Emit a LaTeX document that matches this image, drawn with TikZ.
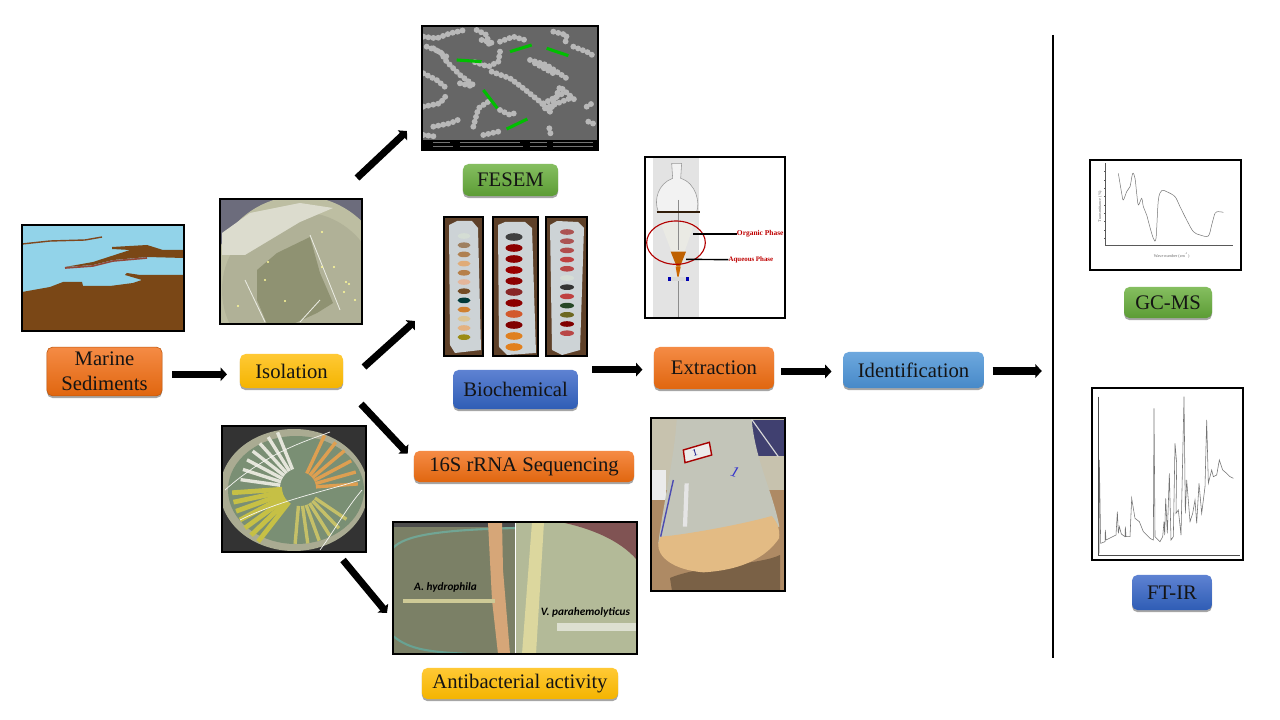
\documentclass[tikz,border=0pt]{standalone}
\usepackage{fontspec}
\setmainfont{Liberation Serif}
\newfontfamily\capfont{Carlito}
\usetikzlibrary{arrows.meta,shadows,calc}

\definecolor{sea}{HTML}{92D3E9}
\definecolor{mud}{HTML}{7A4716}
\definecolor{mudred}{HTML}{93483A}
\definecolor{agar}{HTML}{BDBEA2}
\definecolor{agardark}{HTML}{8F9272}
\definecolor{wrap}{HTML}{DCDCCE}
\definecolor{wood}{HTML}{5E4028}
\definecolor{stripgrey}{HTML}{CDD3D6}
\definecolor{glass}{HTML}{C3C5B9}
\definecolor{wall}{HTML}{C7C2AE}
\definecolor{bench}{HTML}{AE8A64}
\definecolor{broth}{HTML}{E3BB84}
\definecolor{lawnleft}{HTML}{7B8066}
\definecolor{lawnright}{HTML}{B3BA98}
\definecolor{streakleft}{HTML}{D6A678}
\definecolor{streakright}{HTML}{DCD79E}

\tikzset{
  labelbox/.style={rectangle,rounded corners=4pt,inner sep=1pt,align=center,
    font=\fontsize{14.7}{17.5}\selectfont,text=black!92,
    drop shadow={shadow xshift=0pt,shadow yshift=-1.5pt,opacity=.35,fill=black}},
  orangebox/.style={labelbox,top color=orangetop,bottom color=orangebot},
  yellowbox/.style={labelbox,top color=yellowtop,bottom color=yellowbot},
  greenbox/.style={labelbox,top color=greentop,bottom color=greenbot},
  bluebox/.style={labelbox,top color=bluetop,bottom color=bluebot},
  skybox/.style={labelbox,top color=skytop,bottom color=skybot},
  picframe/.style={rectangle,draw=black,line width=1.5pt,inner sep=0pt,outer sep=0pt},
  bigarrow/.style={line width=5pt,-{Triangle[width=9.5pt,length=4.5pt]}},
  bacteria/.style={line width=4.2pt,line cap=round,dash pattern=on 0pt off 3.6pt,color=black!28},
  tinylabel/.style={inner sep=0pt,font=\fontsize{3}{3}\selectfont,text=black!60},
  phase/.style={inner sep=0pt,anchor=west,text=red!75!black,font=\fontsize{5.3}{6}\selectfont\bfseries},
  species/.style={inner sep=0pt,font=\capfont\fontsize{8}{9}\selectfont\bfseries\itshape}
}
\definecolor{orangetop}{HTML}{F58B45}
\definecolor{orangebot}{HTML}{E0660F}
\definecolor{yellowtop}{HTML}{FFC935}
\definecolor{yellowbot}{HTML}{F4B400}
\definecolor{greentop}{HTML}{85BE60}
\definecolor{greenbot}{HTML}{5C9C35}
\definecolor{bluetop}{HTML}{5E82D2}
\definecolor{bluebot}{HTML}{2F5DB5}
\definecolor{skytop}{HTML}{6DA8DE}
\definecolor{skybot}{HTML}{4789C8}

\begin{document}
\begin{tikzpicture}[x=0.025cm,y=-0.025cm]
  \useasboundingbox (0,0) rectangle (1280,720);
  \fill[white] (0,0) rectangle (1280,720);

  % sediments
  \begin{scope}
    \clip (22,225) rectangle (184,331);
    \fill[sea] (22,225) rectangle (184,331);
    \fill[mud] (22,292) -- (50,287) -- (63,282) -- (82,282) -- (83,286) -- (110,286) -- (133,283) -- (142,280)
      -- (125,275) -- (127,273) -- (140,275) -- (184,275) -- (184,331) -- (22,331) -- cycle;
    \fill[mud] (112,247) -- (147,245) -- (163,250) -- (184,250) -- (184,258) -- (147,257) -- (113,260) -- (93,265)
      -- (65,267) -- (93,262) -- (130,250) -- (112,249) -- cycle;
    \draw[mudred,line width=1.2pt] (147,258) -- (113,261) -- (93,266) -- (65,268);
    \draw[mud!80!mudred,line width=1pt] (22,244) -- (50,241) -- (85,240) -- (102,237);
  \end{scope}
  \node[picframe,minimum width=4.05cm,minimum height=2.65cm] (sedimentpic) at (103,278) {};

  % first plate
  \begin{scope}
    \clip (220,199) rectangle (362,324);
    \fill[black!60!blue!15!gray] (220,199) rectangle (362,324);
    \fill[agar] (300,284) circle (88);
    \fill[agar!93!black] (300,290) circle (78);
    \fill[agardark] (257,270) -- (277,253) -- (310,237) -- (320,273) -- (333,303) -- (317,313) -- (293,324) -- (267,324) -- (257,300) -- cycle;
    \fill[wrap] (222,233) -- (250,213) -- (300,203) -- (333,208) -- (300,222) -- (270,240) -- (245,255) -- (222,255) -- cycle;
    \draw[white!70!agar,line width=.6pt] (310,235) -- (330,285) -- (340,310) (320,300) -- (300,322) (245,280) -- (265,322);
    \foreach \px/\py in {268/262,265/280,285/301,322/267,346/282,349/284,344/292,355/300,238/306,322/232,334/267}
      \fill[white!60!yellow] (\px,\py) circle (1.2);
  \end{scope}
  \node[picframe,minimum width=3.55cm,minimum height=3.125cm] (firstplate) at (291,261.5) {};

  % second plate
  \begin{scope}
    \clip (222,426) rectangle (366,552);
    \fill[black!80] (222,426) rectangle (366,552);
    \fill[agar!90!black] (294,490) ellipse (74 and 61);
    \fill[agardark!85!teal] (296,490) ellipse (68 and 54);
    \begin{scope}[shift={(300,488)}]
      \foreach \a in {-112,-122,-132,-142,-152,-162,-172}
        \draw[white!60!agar,line width=2.4pt] (\a:20) -- (\a:60);
      \foreach \a in {-65,-52,-40,-28,-16,-4}
        \draw[orange!50!agar,line width=2.4pt] (\a:16) -- (\a:58);
      \foreach \a in {176,168,160,152,144,136,128}
        \draw[yellow!75!black!85!agar,line width=3.4pt] (\a:18) -- (\a:68);
      \foreach \a in {95,82,70,58,46,34}
        \draw[yellow!50!agar!85!black,line width=2.4pt] (\a:18) -- (\a:56);
    \end{scope}
    \draw[white!85!agar,line width=.5pt] (225,490) .. controls (270,450) and (310,440) .. (330,432)
      (240,520) .. controls (280,500) and (330,490) .. (360,480)
      (320,550) .. controls (335,530) and (345,510) .. (362,490);
  \end{scope}
  \node[picframe,minimum width=3.6cm,minimum height=3.15cm] (secondplate) at (294,489) {};

  % fesem
  \begin{scope}
    \clip (422,26) rectangle (598,150);
    \fill[black!60] (422,26) rectangle (598,150);
    \begin{scope}[shift={(410,15)},scale=1/3]
      \draw[bacteria] (40,65) -- (80,70) -- (120,55) -- (165,45)
        (50,95) -- (90,110) -- (110,140) -- (150,180) -- (190,210)
        (70,100) -- (110,125)
        (200,45) -- (230,60) -- (240,100) (215,75) -- (250,85)
        (270,80) -- (310,65) -- (345,75)
        (270,110) -- (265,140) -- (235,155) -- (190,140)
        (245,170) -- (300,190) -- (340,220) -- (390,260) -- (420,290)
        (360,135) -- (410,150) -- (440,170) -- (470,190) (375,145) -- (430,175)
        (430,50) -- (470,60) -- (465,90)
        (490,95) -- (530,110) -- (555,125)
        (420,290) -- (450,215) -- (500,260) (400,265) -- (460,235) (405,280) -- (480,250)
        (40,175) -- (80,195) -- (110,220) (150,205) -- (190,215)
        (40,275) -- (90,265) -- (110,240)
        (190,335) -- (205,280) -- (235,260)
        (70,335) -- (120,325) -- (155,310)
        (270,285) -- (300,300) -- (325,290)
        (220,360) -- (265,350)
        (40,360) -- (80,365)
        (530,275) -- (555,260)
        (535,320) -- (560,330)
        (418,340) -- (422,358);
      \draw[green!75!black,line width=2.2pt] (140,135) -- (215,140) (300,110) -- (365,90) (410,100) -- (475,122)
        (220,225) -- (262,280) (290,342) -- (352,312);
      \fill[black] (30,375) rectangle (570,410);
      \draw[black!55,line width=.25pt] (70,383) -- (120,383) (150,383) -- (330,383) (360,383) -- (410,383) (430,383) -- (550,383)
        (70,394) -- (130,394) (150,394) -- (340,394) (360,394) -- (410,394) (430,394) -- (550,394);
    \end{scope}
  \end{scope}
  \node[picframe,minimum width=4.4cm,minimum height=3.1cm] (fesempic) at (510,88) {};

  % biochemical strips
  \fill[wood] (444,217) rectangle (483,356);
  \fill[wood] (493,217) rectangle (538,356);
  \fill[wood] (546,217) rectangle (587,356);
  \fill[stripgrey] (449,225) -- (457,221) -- (472,221) -- (478,228) -- (481,350) -- (455,353) -- (450,345) -- cycle;
  \fill[stripgrey] (498,225) -- (505,222) -- (525,222) -- (532,228) -- (536,353) -- (507,355) -- (499,347) -- cycle;
  \fill[stripgrey] (550,225) -- (557,221) -- (578,222) -- (584,228) -- (580,350) -- (562,355) -- (552,350) -- cycle;
  \foreach \n/\col in {0/green!12!gray!30,1/brown!50!gray,2/brown!75!gray,3/orange!25!brown!65,4/brown!85!gray,5/red!15!brown!50,
      6/brown!60!black,7/teal!45!black,8/brown!75!orange,9/olive!20!brown!50,10/orange!30!brown!60,11/olive!75!brown}
    \fill[\col] ({464},{236+9.2*\n}) ellipse (6.5 and 2.8);
  \foreach \n/\col in {0/black!75,1/red!55!black,2/red!55!black,3/red!60!black,4/red!55!black,5/red!45!black!85,6/red!55!black,
      7/red!30!brown,8/red!50!black,9/orange!50!brown,10/orange!55!brown}
    \fill[\col] ({514},{237+11*\n}) ellipse (8.5 and 3.8);
  \foreach \n/\col in {0/red!35!gray,1/red!35!gray,2/red!40!gray,3/red!50!gray,4/red!45!gray,5/green!10!gray!30,6/black!80,
      7/red!50!gray,8/green!15!black!85,9/olive!70!black,10/red!50!black,11/red!45!gray}
    \fill[\col] ({567},{232+9.2*\n}) ellipse (7 and 2.8);
  \node[picframe,minimum width=.975cm,minimum height=3.475cm] (stripa) at (463.5,286.5) {};
  \node[picframe,minimum width=1.125cm,minimum height=3.475cm] (stripb) at (515.5,286.5) {};
  \node[picframe,minimum width=1.025cm,minimum height=3.475cm] (stripc) at (566.5,286.5) {};

  % funnel
  \begin{scope}[shift={(430,150)},scale=1/3]
    \fill[black!11] (670,25) rectangle (808,500);
    \draw[black!40,line width=.4pt,fill=black!5] (725,40) -- (755,40) -- (752,85) .. controls (800,100) and (810,160) .. (800,185)
      -- (685,185) .. controls (670,150) and (685,100) .. (728,85) -- cycle;
    \fill[yellow!22!black!12] (690,215) -- (795,215) -- (750,345) -- (740,345) -- cycle;
    \fill[orange!75!black] (722,305) -- (768,305) -- (750,350) -- (740,350) -- cycle;
    \fill[orange!80!black] (737,350) -- (752,350) -- (746,380) -- (742,380) -- cycle;
    \draw[black!45,line width=.6pt] (745,380) -- (745,500) (745,150) -- (745,300);
    \draw[mud!40!black,line width=1.4pt] (680,185) -- (810,185);
    \fill[black!15] (715,380) rectangle (775,392);
    \fill[blue!70!black] (713,380) rectangle (723,392);
    \fill[blue!70!black] (767,380) rectangle (777,392);
    \draw[red!70!black,line width=.8pt] (738,278) ellipse (88 and 65);
    \coordinate (organicstart) at (790,252);
    \coordinate (aqueousstart) at (768,328);
    \node[phase] (organic) at (920,252) {Organic Phase};
    \node[phase,font=\fontsize{4.9}{6}\selectfont\bfseries] (aqueous) at (895,329) {Aqueous Phase};
    \draw[line width=1pt] (organicstart) -- (organic.west);
    \draw[line width=1pt] (aqueousstart) -- (aqueous.west);
  \end{scope}
  \node[picframe,minimum width=3.5cm,minimum height=4.025cm] (funnelpic) at (715,237.5) {};

  % flask
  \begin{scope}
    \clip (651,418) rectangle (785,591);
    \fill[wall] (651,418) rectangle (785,510);
    \fill[bench] (651,490) rectangle (785,591);
    \fill[blue!25!black!75] (752,420) rectangle (785,456);
    \fill[black!8] (651,470) rectangle (666,500);
    \fill[bench!70!black] (670,578) .. controls (700,565) and (760,565) .. (780,555) -- (780,591) -- (672,591) -- cycle;
    \begin{scope}[shift={(640,410)},scale=1/3]
      \fill[glass] (110,28) -- (335,28) .. controls (345,150) and (400,250) .. (418,350) -- (55,400) .. controls (70,280) and (105,130) .. (110,28);
      \fill[broth] (62,380) .. controls (130,375) and (300,345) .. (395,318) .. controls (415,340) and (420,360) .. (417,385)
        .. controls (380,440) and (310,480) .. (190,487) .. controls (100,480) and (50,440) .. (55,400) -- cycle;
      \draw[white!80!gray,line width=3pt] (140,220) -- (135,350);
      \draw[blue!40!gray,line width=1pt] (100,210) -- (62,380);
      \draw[white!70!gray,line width=.8pt] (335,28) -- (415,140);
      \draw[red!65!black,line width=1pt,fill=white!85!gray] (130,120) -- (208,97) -- (215,135) -- (135,158) -- cycle;
      \node[inner sep=0pt,rotate=15,text=blue!50!black,font=\fontsize{7}{8}\selectfont] (bottlenumber) at (165,128) {1};
      \node[inner sep=0pt,rotate=-20,text=blue!60!gray,font=\fontsize{11}{12}\selectfont\itshape] (handnumber) at (285,187) {1};
    \end{scope}
  \end{scope}
  \node[picframe,minimum width=3.35cm,minimum height=4.325cm] (flaskpic) at (718,504.5) {};

  % antibacterial
  \begin{scope}
    \clip (393,522) rectangle (637,654);
    \fill[lawnleft] (393,522) rectangle (515,654);
    \fill[black!70] (393,522) rectangle (515,527);
    \draw[teal!40!agar,line width=1.5pt] (393,548) .. controls (405,535) and (440,530) .. (515,528);
    \draw[teal!45!agar,line width=1.5pt] (393,636) .. controls (410,650) and (430,652) .. (470,654);
    \fill[lawnright] (516,522) rectangle (637,654);
    \fill[black!50!red!35!gray] (560,522) -- (637,522) -- (637,560) .. controls (620,540) and (590,528) .. (560,522);
    \fill[streakleft] (488,522) -- (502,522) -- (503,570) -- (510,654) -- (498,654) -- (492,600) -- cycle;
    \fill[streakright] (532,522) -- (544,522) -- (536,654) -- (522,654) -- cycle;
    \draw[streakright!85!lawnleft,line width=2.5pt] (403,601) -- (495,601);
    \draw[white!55!lawnright,line width=5pt] (557,627) -- (637,627);
    \fill[white] (514.5,522) rectangle (516,654);
  \end{scope}
  \node[species] (hydrophila) at (445.5,587) {A. hydrophila};
  \node[species] (parahem) at (585.5,612) {V. parahemolyticus};
  \node[picframe,minimum width=6.1cm,minimum height=3.3cm] (antibacpic) at (515,588) {};

  % right hand charts
  \begin{scope}[shift={(1080,150)},scale=1/3]
    \draw[black!65,line width=.3pt] (75,40) -- (75,285) -- (460,285);
    \foreach \ty in {65,90,...,265} \draw[black!65,line width=.25pt] (72,\ty) -- (75,\ty);
    \foreach \tx in {115,157,...,450} \draw[black!65,line width=.25pt] (\tx,285) -- (\tx,288);
    \draw[black!55,line width=.35pt] plot[smooth] coordinates {(115,70) (125,130) (130,150) (140,125) (150,110) (158,70) (165,85) (170,130) (175,165)
      (185,145) (190,170) (200,195) (208,225) (220,265) (228,265) (235,150) (245,122) (260,125) (285,140) (300,170) (320,210) (340,245)
      (360,255) (385,258) (395,225) (405,190) (415,185) (430,187)};
    \node[tinylabel] (wavenumber) at (275,316) {Wave number (cm\textsuperscript{-1})};
    \node[tinylabel,rotate=90] (transmittance) at (60,170) {Transmittance (\%)};
  \end{scope}
  \node[picframe,minimum width=3.775cm,minimum height=2.75cm] (chartpic) at (1165.5,215) {};

  \begin{scope}[shift={(1080,380)},scale=1/3]
    \draw[black!70,line width=.3pt] (55,50) -- (55,525) -- (480,525);
    \draw[black!55,line width=.4pt] plot coordinates {(57,520) (58,240) (62,490) (75,485) (76,450) (78,480) (108,465) (112,395) (115,460) (118,440)
      (124,462) (135,470) (136,440) (138,470) (150,470) (155,355) (165,415) (178,425) (190,455) (210,475) (220,480) (222,85) (225,470)
      (240,485) (248,470) (252,425) (254,465) (257,355) (262,460) (268,280) (273,480) (280,470) (285,190) (290,250) (288,400) (295,390)
      (303,465) (312,50) (316,400) (320,300) (330,425) (338,400) (345,360) (350,430) (357,310) (365,400) (375,320) (380,120) (385,310)
      (395,270) (400,290) (410,285) (418,240) (428,270) (440,280) (450,290) (460,295)};
  \end{scope}
  \node[picframe,minimum width=3.775cm,minimum height=4.3cm] (tracepic) at (1167.5,474) {};

  % boxes
  \node[orangebox,draw=orangebot!85!black,minimum width=2.88cm,minimum height=1.22cm] (marine) at (104.5,371.5) {Marine\\Sediments};
  \node[yellowbox,minimum width=2.58cm,minimum height=.85cm] (isolation) at (291.5,371) {Isolation};
  \node[greenbox,minimum width=2.38cm,minimum height=.8cm] (fesem) at (510.5,180) {FESEM};
  \node[bluebox,minimum width=3.12cm,minimum height=.98cm] (biochem) at (515.5,389.5) {Biochemical};
  \node[orangebox,minimum width=3cm,minimum height=1.05cm] (extraction) at (714,368) {Extraction};
  \node[skybox,minimum width=3.52cm,minimum height=.9cm] (identification) at (913.5,370) {Identification};
  \node[orangebox,minimum width=5.5cm,minimum height=.78cm] (sequencing) at (524,466.5) {16S rRNA Sequencing};
  \node[yellowbox,minimum width=4.9cm,minimum height=.78cm] (antibac) at (520,683.5) {Antibacterial activity};
  \node[greenbox,minimum width=2.2cm,minimum height=.78cm] (gcms) at (1168,302.5) {GC-MS};
  \node[bluebox,minimum width=2cm,minimum height=.88cm] (ftir) at (1172,592.5) {FT-IR};

  % arrows
  \coordinate (split) at (1053,371);
  \coordinate (isoup) at (357,178);
  \coordinate (isomid) at (364,367);
  \coordinate (isodown) at (361,404);
  \coordinate (platedown) at (343,560);
  \draw[bigarrow,shorten <=7pt,shorten >=9pt] ([yshift=-2pt]marine.east) -- ([yshift=-2pt]marine.east -| isolation.west);
  \draw[bigarrow] (isoup) -- ($(fesempic.south west)+(-15,-19)$);
  \draw[bigarrow] (isomid) -- ($(stripa.south west)+(-29,-35)$);
  \draw[bigarrow] (isodown) -- ($(sequencing.north west)+(-6,3)$);
  \draw[bigarrow] (platedown) -- ($(antibacpic.south west)+(-6,-41)$);
  \draw[bigarrow,shorten <=10pt,shorten >=8pt] (biochem.north east) -- (extraction.west |- biochem.north east);
  \draw[bigarrow,shorten <=5pt,shorten >=8pt] ([yshift=-1pt]identification.west -| extraction.east) -- ([yshift=-1pt]identification.west);
  \draw[bigarrow,shorten <=6pt,shorten >=8pt] (identification.east |- split) -- (split);

  \draw[line width=1.1pt] (1053,35) -- (1053,658);
\end{tikzpicture}
\end{document}
